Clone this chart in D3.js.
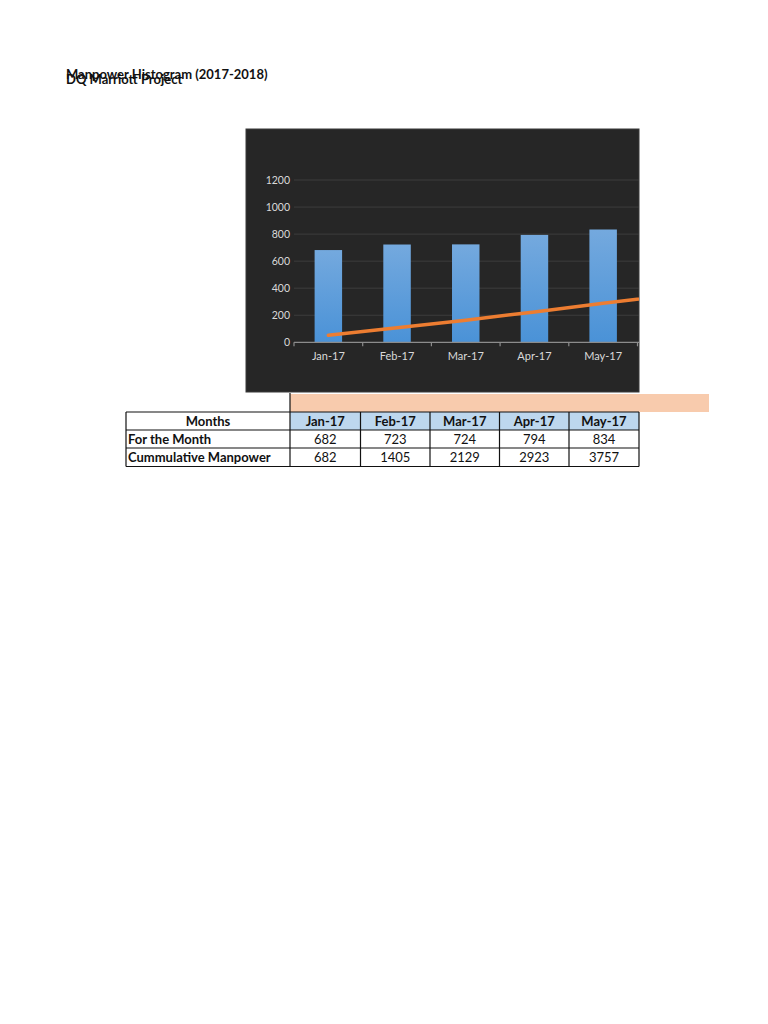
<!DOCTYPE html>
<html>
<head>
<meta charset="utf-8">
<script src="https://d3js.org/d3.v7.min.js"></script>
<style>
  body { margin: 0; background: #fff; }
  text { font-family: Lato, "Open Sans", sans-serif; }
</style>
</head>
<body>
<script>
// chart data
var months = ["Jan-17", "Feb-17", "Mar-17", "Apr-17", "May-17"];
var forMonth = [682, 723, 724, 794, 834];
var cumulative = [682, 1405, 2129, 2923, 3757];
// the line runs on past the crop edge toward the next month (estimated)
var lineMonths = ["Jan-17", "Feb-17", "Mar-17", "Apr-17", "May-17", "Jun-17"];
var lineValues = [682, 1405, 2129, 2923, 3757, 4540];
var yTicks = [0, 200, 400, 600, 800, 1000, 1200];
var rowLabels = ["Months", "For the Month", "Cummulative Manpower"];

var w = 768, h = 1024;
var svg = d3.select("body").append("svg")
  .attr("width", w)
  .attr("height", h);

// page titles (they overlap in the original)
svg.append("text")
  .attr("x", 66).attr("y", 79)
  .style("font-size", "13px").style("font-weight", "bold").style("fill", "#111")
  .text("Manpower Histogram (2017-2018)");
svg.append("text")
  .attr("x", 66).attr("y", 84)
  .style("font-size", "13px").style("font-weight", "bold").style("fill", "#111")
  .text("DQ Marriott Project");

// chart box
var box = { x: 246, y: 129, w: 393, h: 263 };
svg.append("rect")
  .attr("x", box.x).attr("y", box.y)
  .attr("width", box.w).attr("height", box.h)
  .style("fill", "#262626")
  .style("stroke", "#3a3a3a");

svg.append("clipPath").attr("id", "chartClip")
  .append("rect")
  .attr("x", box.x).attr("y", box.y)
  .attr("width", box.w).attr("height", box.h);

var grad = svg.append("defs").append("linearGradient")
  .attr("id", "barGrad")
  .attr("x1", 0).attr("y1", 0).attr("x2", 0).attr("y2", 1);
grad.append("stop").attr("offset", "0%").attr("stop-color", "#74a9de");
grad.append("stop").attr("offset", "100%").attr("stop-color", "#4a92d7");

var g = svg.append("g").attr("clip-path", "url(#chartClip)");

var step = 68.7;
var x = d3.scaleBand()
  .domain(lineMonths)
  .range([294, 294 + step * lineMonths.length])
  .paddingInner(0.6)
  .paddingOuter(0.3);

var y = d3.scaleLinear().domain([0, 1200]).range([342.3, 180]);
// secondary (hidden) axis for the cumulative line
var y2 = d3.scaleLinear().domain([0, 15600]).range([342.3, 180]);

// gridlines
g.selectAll(".grid")
  .data(yTicks.slice(1))
  .enter().append("line")
  .attr("class", "grid")
  .attr("x1", 294).attr("x2", box.x + box.w)
  .attr("y1", function(d){ return y(d); })
  .attr("y2", function(d){ return y(d); })
  .style("stroke", "#3d3d3d")
  .style("stroke-width", 1);

// y labels
g.selectAll(".ylab")
  .data(yTicks)
  .enter().append("text")
  .attr("class", "ylab")
  .attr("x", 290)
  .attr("y", function(d){ return y(d) + 3.7; })
  .attr("text-anchor", "end")
  .style("font-size", "10.5px")
  .style("fill", "#d9d9d9")
  .text(function(d){ return d; });

// bars
g.selectAll(".bar")
  .data(forMonth)
  .enter().append("rect")
  .attr("class", "bar")
  .attr("x", function(d, i){ return x(months[i]); })
  .attr("width", x.bandwidth())
  .attr("y", function(d){ return y(d); })
  .attr("height", function(d){ return y(0) - y(d); })
  .style("fill", "url(#barGrad)");

// x axis line and boundary ticks
g.append("line")
  .attr("x1", 294).attr("x2", box.x + box.w)
  .attr("y1", y(0)).attr("y2", y(0))
  .style("stroke", "#8c8c8c").style("stroke-width", 1.2);
g.selectAll(".xtick")
  .data(d3.range(lineMonths.length + 1))
  .enter().append("line")
  .attr("class", "xtick")
  .attr("x1", function(i){ return x.range()[0] + i * x.step(); })
  .attr("x2", function(i){ return x.range()[0] + i * x.step(); })
  .attr("y1", y(0)).attr("y2", y(0) + 4)
  .style("stroke", "#8c8c8c").style("stroke-width", 1.2);

// x labels
g.selectAll(".xlab")
  .data(lineMonths)
  .enter().append("text")
  .attr("class", "xlab")
  .attr("x", function(d){ return x(d) + x.bandwidth() / 2; })
  .attr("y", 359.5)
  .attr("text-anchor", "middle")
  .style("font-size", "11px")
  .style("fill", "#d9d9d9")
  .text(function(d){ return d; });

// cumulative line
var line = d3.line()
  .x(function(d, i){ return x(lineMonths[i]) + x.bandwidth() / 2; })
  .y(function(d){ return y2(d); });
g.append("path")
  .datum(lineValues)
  .attr("d", line)
  .style("fill", "none")
  .style("stroke", "#ed7d31")
  .style("stroke-width", 3.5)
  .style("stroke-linecap", "round");

// orange band above the table
svg.append("rect")
  .attr("x", 290).attr("y", 394)
  .attr("width", 419).attr("height", 18)
  .style("fill", "#f8cbad");

// table
var colX = [126, 290, 360.5, 430, 499.5, 569, 639];
var rowY = [412, 430, 448, 466.5];
var rows = [months, forMonth, cumulative];

var table = svg.append("g").attr("class", "table");

// header fills
table.selectAll(".hfill")
  .data(months)
  .enter().append("rect")
  .attr("class", "hfill")
  .attr("x", function(d, i){ return colX[i + 1]; })
  .attr("y", rowY[0])
  .attr("width", function(d, i){ return colX[i + 2] - colX[i + 1]; })
  .attr("height", rowY[1] - rowY[0])
  .style("fill", "#bdd7ee");

// row labels
rowLabels.forEach(function(lab, r){
  table.append("text")
    .attr("x", r === 0 ? (colX[0] + colX[1]) / 2 : colX[0] + 2)
    .attr("y", rowY[r] + 13.5)
    .attr("text-anchor", r === 0 ? "middle" : "start")
    .style("font-size", "13px")
    .style("font-weight", "bold")
    .style("fill", "#111")
    .text(lab);
});

// cell values
rows.forEach(function(vals, r){
  table.selectAll(".cell" + r)
    .data(vals)
    .enter().append("text")
    .attr("class", "cell" + r)
    .attr("x", function(d, i){ return (colX[i + 1] + colX[i + 2]) / 2; })
    .attr("y", rowY[r] + 13.5)
    .attr("text-anchor", "middle")
    .style("font-size", "13px")
    .style("font-weight", r === 0 ? "bold" : "normal")
    .style("fill", "#111")
    .text(function(d){ return d; });
});

// grid lines of the table
table.selectAll(".hline")
  .data(rowY)
  .enter().append("line")
  .attr("class", "hline")
  .attr("x1", colX[0]).attr("x2", colX[colX.length - 1])
  .attr("y1", function(d){ return d; }).attr("y2", function(d){ return d; })
  .style("stroke", "#111").style("stroke-width", 1.2);
table.selectAll(".vline")
  .data(colX)
  .enter().append("line")
  .attr("class", "vline")
  .attr("x1", function(d){ return d; }).attr("x2", function(d){ return d; })
  .attr("y1", rowY[0]).attr("y2", rowY[rowY.length - 1])
  .style("stroke", "#111").style("stroke-width", 1.2);
// left edge of the orange band column
table.append("line")
  .attr("x1", colX[1]).attr("x2", colX[1])
  .attr("y1", 393).attr("y2", rowY[0])
  .style("stroke", "#111").style("stroke-width", 1.2);
</script>
</body>
</html>
